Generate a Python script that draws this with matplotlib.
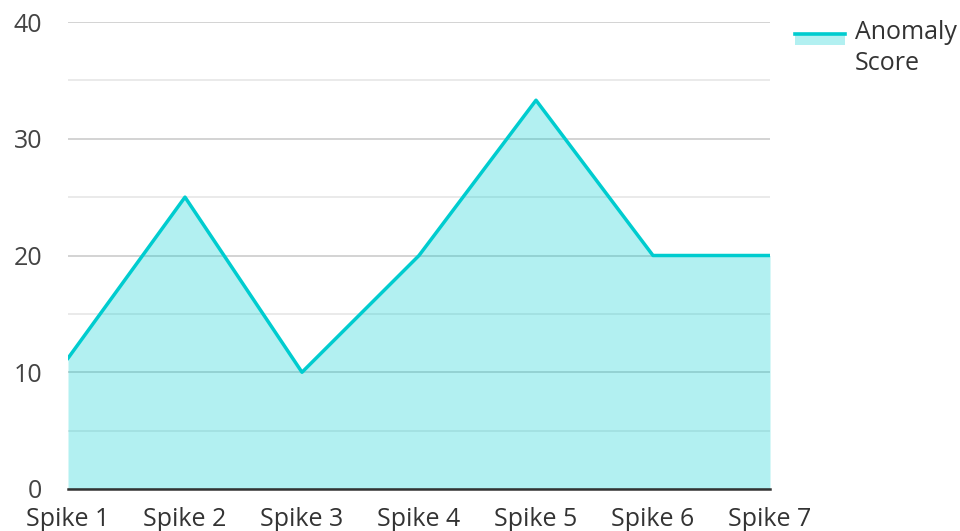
import matplotlib.pyplot as plt
from matplotlib.patches import Rectangle
from matplotlib.lines import Line2D

plt.rcParams["font.family"] = ["Open Sans", "DejaVu Sans"]

categories = ["Spike 1", "Spike 2", "Spike 3", "Spike 4", "Spike 5", "Spike 6", "Spike 7"]
anomaly_score = [11.2, 25, 10, 20, 33.3, 20, 20]
series_name = "Anomaly\nScore"

line_color = "#00cccf"
fill_color = (0 / 255, 206 / 255, 209 / 255)

fig = plt.figure(figsize=(9.6, 5.31), dpi=100)
ax = fig.add_axes([68 / 960, 1 - 489 / 531, (770 - 68) / 960, (489 - 22) / 531])

x = list(range(len(categories)))
ax.fill_between(x, 0, anomaly_score, color=fill_color, alpha=0.3, linewidth=0, zorder=3)
ax.plot(x, anomaly_score, color=line_color, linewidth=2.5, zorder=4)

ax.set_xlim(0, len(categories) - 1)
ax.set_ylim(0, 40)
ax.set_xticks(x)
ax.set_xticklabels(categories)
ax.set_yticks([0, 10, 20, 30, 40])
ax.set_yticks([5, 15, 25, 35], minor=True)
ax.grid(axis="y", which="major", color="#cccccc", linewidth=1.2, zorder=1)
ax.grid(axis="y", which="minor", color="#e6e6e6", linewidth=1.2, zorder=1)
ax.grid(axis="x", visible=False)

for s in ["top", "right", "left"]:
    ax.spines[s].set_visible(False)
ax.spines["bottom"].set_color("#333333")
ax.spines["bottom"].set_linewidth(1.8)
ax.spines["bottom"].set_zorder(5)

ax.tick_params(axis="both", which="both", length=0)
ax.tick_params(axis="y", labelsize=18, labelcolor="#444444", pad=18.5)
ax.tick_params(axis="x", labelsize=18, labelcolor="#333333", pad=13)

# legend drawn by hand: filled swatch with a line along the top
fig.add_artist(Rectangle((795 / 960, 1 - 45 / 531), 50 / 960, 11 / 531,
                         transform=fig.transFigure, facecolor=fill_color, alpha=0.3, linewidth=0))
fig.add_artist(Line2D([795 / 960, 845 / 960], [1 - 34 / 531, 1 - 34 / 531],
                      transform=fig.transFigure, color=line_color, linewidth=2.6))
fig.text(855 / 960, 1 - 20 / 531, series_name, fontsize=18, color="#333333",
         va="top", ha="left", linespacing=1.3)

fig.savefig("out.png", dpi=100)
